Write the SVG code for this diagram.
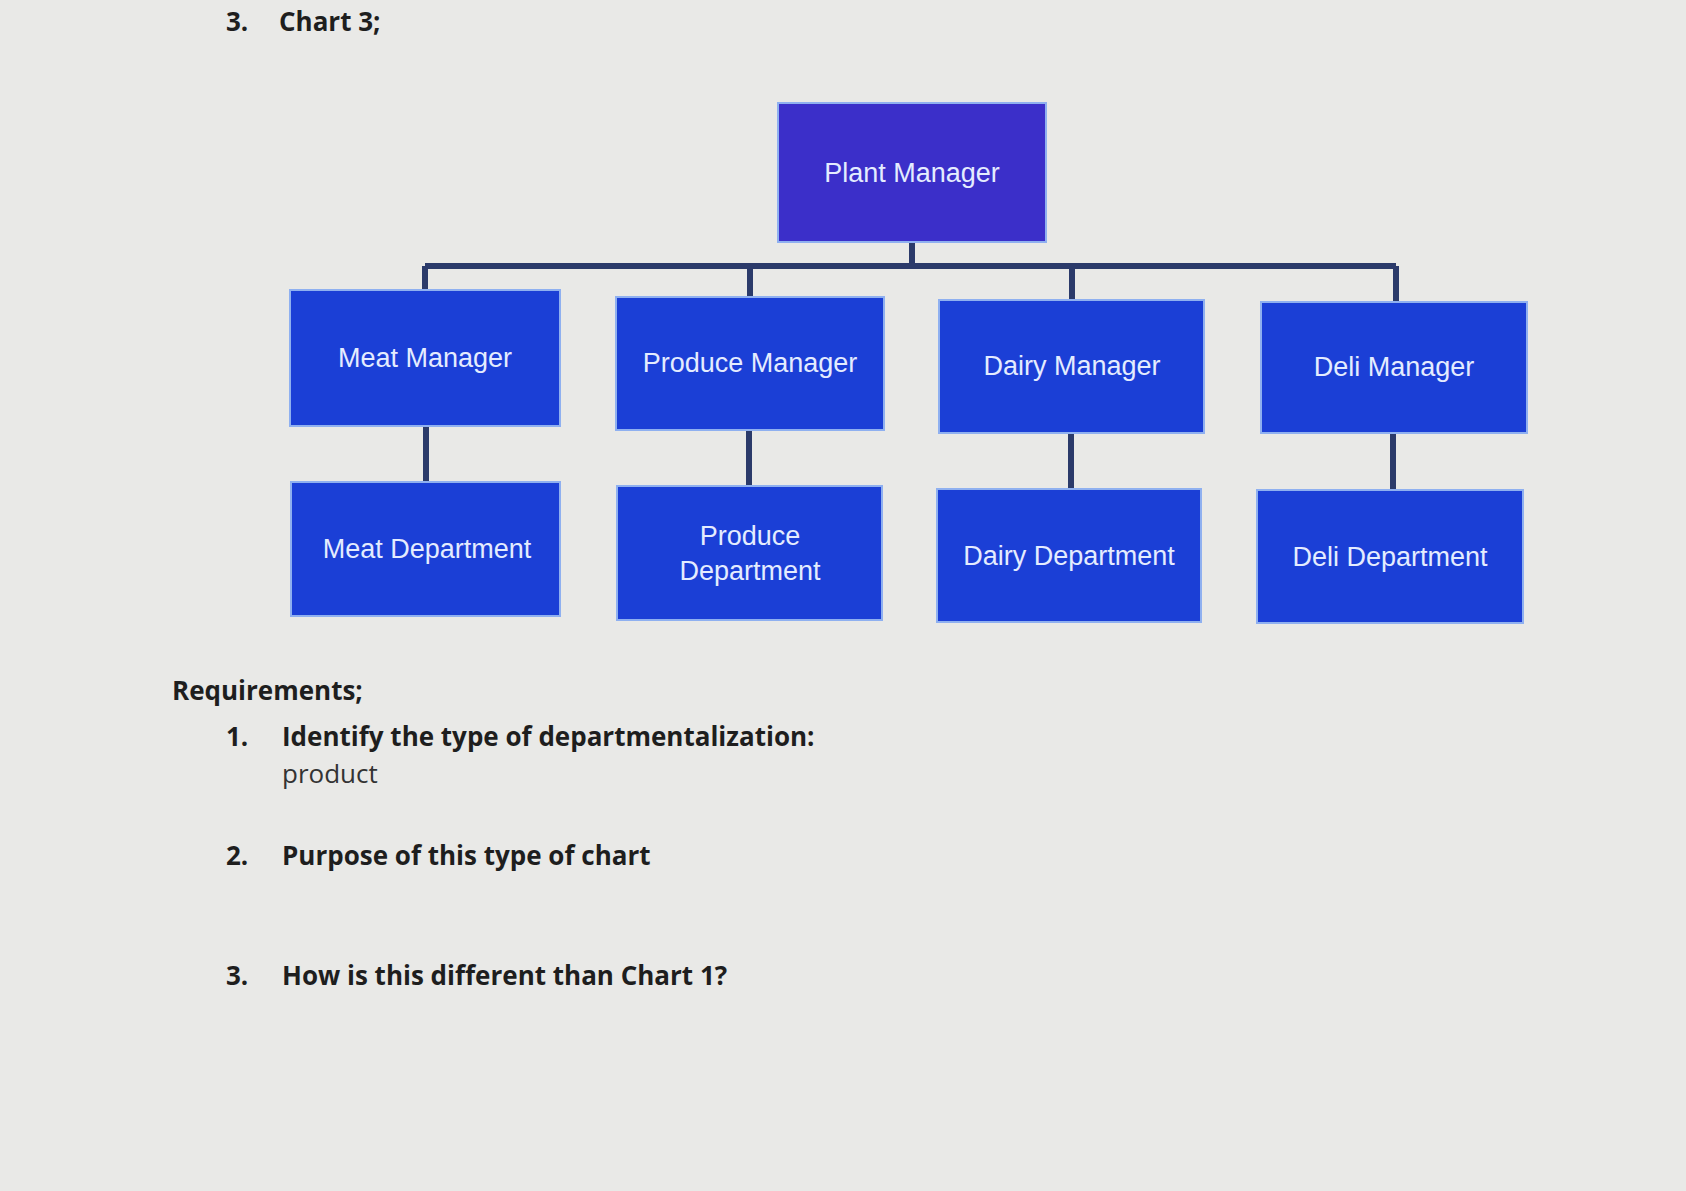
<svg xmlns="http://www.w3.org/2000/svg" width="1686" height="1191" viewBox="0 0 1686 1191">
<style>
.n{fill:#1b3fd6;stroke:#8fb0f0;stroke-width:2}
.t{font-family:"Liberation Sans",Arial,sans-serif;font-size:27px;fill:#e4ecff;text-anchor:middle}
.b{font-family:"Open Sans","Liberation Sans",sans-serif;font-size:26px;fill:#1e1e1e;font-weight:bold}
.r{font-family:"Open Sans","Liberation Sans",sans-serif;font-size:26px;fill:#333}
.c{stroke:#2b3a6a;stroke-width:6;fill:none}
</style>
<rect width="1686" height="1191" fill="#e9e9e7"/>
<text class="b" x="226" y="31">3.</text><text class="b" x="279" y="31">Chart 3;</text>
<g id="connectors">
<path class="c" d="M912 242V266M425 266H1396M425 266V290M750 266V297M1072 266V300M1396 266V302M426 426V482M749 430V486M1071 433V489M1393 433V490"/>
</g>
<g id="plant"><rect class="n" x="778" y="103" width="268" height="139" style="fill:#3b2fc9"/><text class="t" x="912" y="182">Plant Manager</text></g>
<g id="meatm"><rect class="n" x="290" y="290" width="270" height="136"/><text class="t" x="425" y="367">Meat Manager</text></g>
<g id="prodm"><rect class="n" x="616" y="297" width="268" height="133"/><text class="t" x="750" y="372">Produce Manager</text></g>
<g id="dairym"><rect class="n" x="939" y="300" width="265" height="133"/><text class="t" x="1072" y="375">Dairy Manager</text></g>
<g id="delim"><rect class="n" x="1261" y="302" width="266" height="131"/><text class="t" x="1394" y="376">Deli Manager</text></g>
<g id="meatd"><rect class="n" x="291" y="482" width="269" height="134"/><text class="t" x="427" y="558">Meat Department</text></g>
<g id="prodd"><rect class="n" x="617" y="486" width="265" height="134"/><text class="t" x="750" y="545">Produce</text><text class="t" x="750" y="580">Department</text></g>
<g id="dairyd"><rect class="n" x="937" y="489" width="264" height="133"/><text class="t" x="1069" y="565">Dairy Department</text></g>
<g id="delid"><rect class="n" x="1257" y="490" width="266" height="133"/><text class="t" x="1390" y="566">Deli Department</text></g>
<text class="b" x="172" y="700">Requirements;</text>
<text class="b" x="226" y="746">1.</text><text class="b" x="282" y="746">Identify the type of departmentalization:</text>
<text class="r" x="282" y="783">product</text>
<text class="b" x="226" y="865">2.</text><text class="b" x="282" y="865">Purpose of this type of chart</text>
<text class="b" x="226" y="985">3.</text><text class="b" x="282" y="985">How is this different than Chart 1?</text>
</svg>
